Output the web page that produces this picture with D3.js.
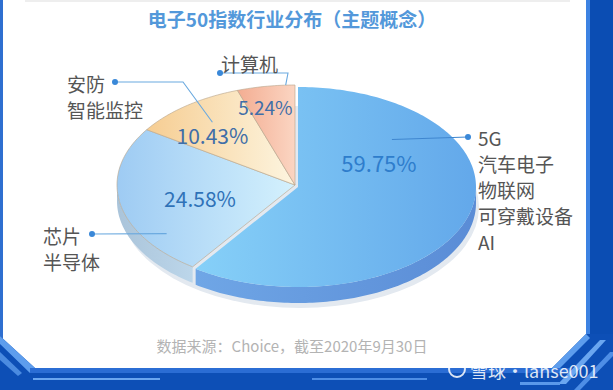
<!DOCTYPE html>
<html>
<head>
<meta charset="utf-8">
<script src="https://cdn.jsdelivr.net/npm/d3@7"></script>
<style>
  body { margin: 0; background: #fff; }
  svg { display: block; font-family: "Noto Sans CJK SC", "Noto Sans", sans-serif; }
</style>
</head>
<body>
<svg id="chart" width="613" height="390"></svg>
<script>
// chart values
const titleText = "电子50指数行业分布（主题概念）";
const sourceText = "数据来源：Choice，截至2020年9月30日";
const sliceNames = [["5G", "汽车电子", "物联网", "可穿戴设备", "AI"], ["芯片", "半导体"], ["安防", "智能监控"], ["计算机"]];
const shares = [59.75, 24.58, 10.43, 5.24];

// looks
const topColors = [["#86d0f8", "#63a8ea"], ["#9ecbf3", "#d4f1fd"], ["#f6cd92", "#fdf5e0"], ["#f3ad92", "#fbd5c2"]];
const wallColors = [["#6fa6e6", "#5a8cd6"], ["#aac4da", "#bcd6ea"], ["#e8c48e", "#e8c48e"], ["#e6a58c", "#e6a58c"]];
const pctColors = ["#2e7dcc", "#2f72b8", "#3f6ea8", "#3f6ea8"];
const pctSizes = [22, 21, 21, 19];
// where the percent text sits: [angle in degrees, share of radius]
const pctSpots = [[61, 0.52], [256, 0.55], [317, 0.68], [348, 0.8]];

const svg = d3.select("#chart");
const W = 613, H = 390;

const cx = 295, cy = 185, rx = 178, ry = 100, depth = 16;
const explode = [[3, 2], [0, 0], [0, 0], [0, 0]];
const rad = d => d * Math.PI / 180;

function pt(a, r, off) {
  off = off || [0, 0];
  return [cx + off[0] + rx * r * Math.sin(a), cy + off[1] - ry * r * Math.cos(a)];
}

function arcPts(a0, a1, off, dy) {
  const n = Math.max(2, Math.ceil((a1 - a0) / 0.02));
  return d3.range(n + 1).map(i => {
    const a = a0 + (a1 - a0) * i / n;
    const p = pt(a, 1, off);
    return [p[0], p[1] + dy];
  });
}

const defs = svg.append("defs");
topColors.forEach((c, i) => {
  const g = defs.append("linearGradient").attr("id", "top" + i)
    .attr("x1", "0%").attr("x2", "100%").attr("y1", "0%").attr("y2", "0%");
  g.append("stop").attr("offset", "0%").attr("stop-color", c[0]);
  g.append("stop").attr("offset", "100%").attr("stop-color", c[1]);
});
wallColors.forEach((c, i) => {
  const g = defs.append("linearGradient").attr("id", "wall" + i)
    .attr("x1", "0%").attr("x2", "100%").attr("y1", "0%").attr("y2", "0%");
  g.append("stop").attr("offset", "0%").attr("stop-color", c[0]);
  g.append("stop").attr("offset", "100%").attr("stop-color", c[1]);
});

// ---- frame ----
svg.append("rect").attr("width", W).attr("height", H).attr("fill", "#fff");
svg.append("rect").attr("x", 25).attr("y", 0).attr("width", 545).attr("height", 2).attr("fill", "#eeeeee");
svg.append("rect").attr("x", 0).attr("y", 0).attr("width", 3).attr("height", 340).attr("fill", "#2f6fd0");
svg.append("rect").attr("x", 586).attr("y", 0).attr("width", 27).attr("height", H).attr("fill", "#0b4db3");
svg.append("rect").attr("x", 586).attr("y", 0).attr("width", 4).attr("height", 334).attr("fill", "#3d82e2");

// bottom band and corners
svg.append("polygon")
  .attr("points", "0,336 35,368 552,368 586,334 613,334 613,390 0,390")
  .attr("fill", "#0d4fb6");
svg.append("polygon")
  .attr("points", "0,336 35,368 48,368 48,373 30,373 0,344")
  .attr("fill", "#5d9ded");
svg.append("polygon")
  .attr("points", "0,352 22,373 18,376 0,360")
  .attr("fill", "#4b8be0");
svg.append("rect").attr("x", 30).attr("y", 368).attr("width", 540).attr("height", 5).attr("fill", "#2b6dd4");
svg.append("rect").attr("x", 33).attr("y", 378).attr("width", 127).attr("height", 2).attr("fill", "#6aa6f0");
svg.append("rect").attr("x", 312).attr("y", 378).attr("width", 115).attr("height", 2).attr("fill", "#4e8ee6");
svg.append("polygon")
  .attr("points", "586,334 552,368 560,368 590,338")
  .attr("fill", "#5d9ded");
svg.append("polygon")
  .attr("points", "600,340 606,340 566,384 558,384")
  .attr("fill", "#6aa6f0");
svg.append("polygon")
  .attr("points", "610,352 613,352 613,356 580,390 574,390")
  .attr("fill", "#4e8ee6");
svg.append("rect").attr("x", 520).attr("y", 382).attr("width", 40).attr("height", 3).attr("fill", "#5a98ea");

// ---- title and source ----
svg.append("text")
  .attr("x", 292).attr("y", 27)
  .attr("text-anchor", "middle")
  .attr("font-size", 19).attr("font-weight", "bold")
  .attr("fill", "#5398da")
  .text(titleText);

svg.append("text")
  .attr("x", 292).attr("y", 352)
  .attr("text-anchor", "middle")
  .attr("font-size", 15)
  .attr("fill", "#b3b3b3")
  .text(sourceText);

// ---- pie ----
const pie = d3.pie().sort(null).value(d => d)(shares);

// soft shadow below the pie
svg.append("ellipse")
  .attr("cx", cx + 5).attr("cy", cy + depth + 6)
  .attr("rx", rx + 1).attr("ry", ry + 1)
  .attr("fill", "#e3e9f0");

const line = d3.line();

// outer walls on the front half
pie.forEach((d, i) => {
  const a0 = Math.max(d.startAngle, Math.PI / 2);
  const a1 = Math.min(d.endAngle, Math.PI * 1.5);
  if (a0 >= a1) return;
  const upper = arcPts(a0, a1, explode[i], 0);
  const lower = arcPts(a0, a1, explode[i], depth).reverse();
  svg.append("path")
    .attr("d", line(upper.concat(lower)) + "Z")
    .attr("fill", "url(#wall" + i + ")");
});

// top faces
pie.forEach((d, i) => {
  const c = [cx + explode[i][0], cy + explode[i][1]];
  const pts = [c].concat(arcPts(d.startAngle, d.endAngle, explode[i], 0));
  svg.append("path")
    .attr("d", line(pts) + "Z")
    .attr("fill", "url(#top" + i + ")")
    .attr("stroke", i === 0 ? "none" : "#b9a58c")
    .attr("stroke-opacity", 0.7)
    .attr("stroke-width", 0.9);
});

// percent labels
pie.forEach((d, i) => {
  const p = pt(rad(pctSpots[i][0]), pctSpots[i][1], explode[i]);
  svg.append("text")
    .attr("x", p[0]).attr("y", p[1])
    .attr("text-anchor", "middle")
    .attr("dominant-baseline", "central")
    .attr("font-size", pctSizes[i])
    .attr("fill", pctColors[i])
    .text(shares[i].toFixed(2) + "%");
});

// ---- callouts ----
const callouts = [
  { slice: 0, at: [48, 0.71], bend: null, dot: [468, 137], tx: 478, ty: 137, lineColor: "#3f86cf" },
  { slice: 1, at: [236, 0.87], bend: null, dot: [92, 234], tx: 43, ty: 235, lineColor: "#6aa9df" },
  { slice: 2, at: [323.5, 0.78], bend: [183, 82], dot: [115, 82], tx: 67, ty: 83, lineColor: "#6aa9df" },
  { slice: 3, at: [357, 1.0], bend: [288, 73], dot: [220, 73], tx: 221, ty: 63, lineColor: "#6aa9df" }
];

callouts.forEach(c => {
  const start = pt(rad(c.at[0]), c.at[1], explode[c.slice]);
  const pts = [start];
  if (c.bend) pts.push(c.bend);
  pts.push(c.dot);
  svg.append("path")
    .attr("d", line(pts))
    .attr("fill", "none")
    .attr("stroke", c.lineColor)
    .attr("stroke-width", 1.1);
  svg.append("circle")
    .attr("cx", c.dot[0]).attr("cy", c.dot[1]).attr("r", 3)
    .attr("fill", "#3a88d8");

  const t = svg.append("text")
    .attr("font-size", 19)
    .attr("fill", "#555");
  sliceNames[c.slice].forEach((s, k) => {
    t.append("tspan")
      .attr("x", c.tx)
      .attr("y", c.ty + k * 26)
      .attr("dominant-baseline", "central")
      .text(s);
  });
});

// ---- watermark ----
svg.append("circle").attr("cx", 457).attr("cy", 369).attr("r", 8)
  .attr("fill", "none").attr("stroke", "#fff").attr("stroke-width", 2).attr("opacity", 0.85);
svg.append("text")
  .attr("x", 470).attr("y", 370)
  .attr("dominant-baseline", "central")
  .attr("font-size", 18)
  .attr("fill", "#fff").attr("opacity", 0.85)
  .text("雪球·lanse001");
</script>
</body>
</html>
